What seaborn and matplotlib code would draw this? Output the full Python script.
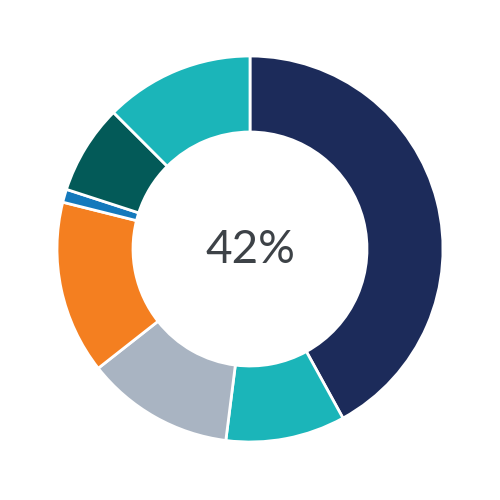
import matplotlib
matplotlib.use("Agg")
import matplotlib.pyplot as plt
import seaborn as sns

labels = ["A", "B", "C", "D", "E", "F", "G"]
values = [42, 10, 12.4, 14.5, 1.1, 7.5, 12.5]
colors = ["#1C2B5A", "#1BB5B9", "#A9B4C2", "#F47F20", "#1479BC", "#035A58", "#1BB5B9"]
center_text = "42%"

sns.set_theme(style="white")
plt.rcParams['font.family'] = ['Lato', 'DejaVu Sans']

fig = plt.figure(figsize=(5, 5), dpi=100)
ax = fig.add_axes([0, 0, 1, 1])
outer = 193 / 250
inner = 117 / 250
cy = 1 / 250
ax.pie(values, colors=colors, startangle=90, counterclock=False,
       radius=outer, center=(0, cy),
       wedgeprops=dict(width=outer - inner, edgecolor="white", linewidth=2))
ax.text(0, cy - 1 / 250, center_text, ha="center", va="center", fontsize=33,
        color="#3D4247", fontweight="normal")
ax.set_xlim(-1, 1)
ax.set_ylim(-1, 1)
ax.set_aspect("equal")
ax.axis("off")
fig.savefig("out.png", dpi=100, facecolor="white")
